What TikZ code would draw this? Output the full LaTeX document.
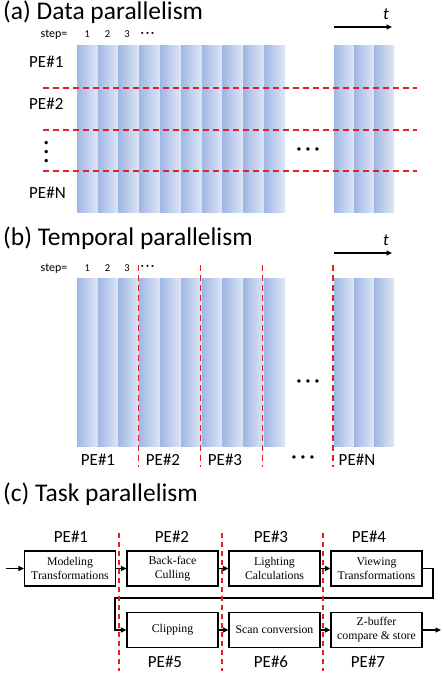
\documentclass[tikz,border=0pt]{standalone}
\usepackage{fontspec}
\setmainfont{Carlito}
\newfontfamily\boxfont{Liberation Serif}
\usetikzlibrary{arrows.meta}
\definecolor{stripL}{RGB}{160,183,228}
\definecolor{stripR}{RGB}{224,231,246}
\definecolor{dashred}{RGB}{228,30,40}
\tikzset{
  stripfill/.style={left color=stripL,right color=stripR},
  reddash/.style={draw=dashred,line width=1.7pt,dash pattern=on 6pt off 4pt},
  reddashv/.style={draw=dashred,line width=1.6pt,dash pattern=on 5pt off 4pt},
  arr/.style={-{Triangle[length=5.5pt,width=5pt]},line width=1.2pt},
  titletxt/.style={font=\fontsize{25.5}{28}\selectfont,anchor=base west,inner sep=0pt},
  petxt/.style={font=\fontsize{17}{20}\selectfont,inner sep=0pt},
  steptxt/.style={font=\fontsize{12}{14}\selectfont,inner sep=0pt},
  numtxt/.style={font=\fontsize{10.5}{12}\selectfont,inner sep=0pt},
  dotstxt/.style={font=\bfseries\fontsize{18}{20}\selectfont,inner sep=0pt},
  taskbox/.style={draw,line width=1.1pt,minimum width=91pt,minimum height=35pt,inner sep=1pt,align=center,font=\boxfont\fontsize{11.8}{14}\selectfont},
}
\newcommand\threedots{·\hspace{4.2pt}·\hspace{4.2pt}·}
\newcommand\smalldots{·\hspace{2.2pt}·\hspace{2.2pt}·}
\begin{document}
\begin{tikzpicture}[x=1pt,y=-1pt]
\useasboundingbox (0,0) rectangle (443,676);

% ---------------- (a) Data parallelism
\node[titletxt] (ta) at (3,20) {(a) Data parallelism};
\coordinate (ta1) at (334,27);
\coordinate (ta2) at (392,27);
\draw[arr] (ta1) -- (ta2);
\node[font=\itshape\fontsize{17}{20}\selectfont,inner sep=0pt] (tla) at (386,14) {t};

\node[steptxt,anchor=base west] (sa) at (40.5,38) {step=};
\node[numtxt,anchor=base] (sa1) at (87.4,38) {1};
\node[numtxt,anchor=base] (sa2) at (107.5,38) {2};
\node[numtxt,anchor=base] (sa3) at (127,38) {3};
\node[numtxt,font=\bfseries\fontsize{11}{12}\selectfont] (sad) at (147.5,34) {\smalldots};

\foreach \i in {0,...,9}
  \shade[stripfill] ({77+20.8*\i},46) rectangle ({77+20.8*(\i+1)},212);
\foreach \xx in {334,354,374}
  \shade[stripfill] (\xx,46) rectangle (\xx+20,212);

\coordinate (ha1) at (43,88);   \coordinate (hb1) at (417,88);
\coordinate (ha2) at (43,130);  \coordinate (hb2) at (417,130);
\coordinate (ha3) at (43,171);  \coordinate (hb3) at (417,171);
\draw[reddash] (ha1) -- (hb1);
\draw[reddash] (ha2) -- (hb2);
\draw[reddash] (ha3) -- (hb3);

\node[petxt,anchor=base west] (pa1) at (29,67.5) {PE\#1};
\node[petxt,anchor=base west] (pa2) at (29,110) {PE\#2};
\node[petxt,anchor=base west] (pan) at (29,199) {PE\#N};
\node[dotstxt,rotate=90] (pav) at (48,152) {\threedots};
\node[dotstxt] (pah) at (308,151) {\threedots};

% ---------------- (b) Temporal parallelism
\node[titletxt] (tb) at (3,245.5) {(b) Temporal parallelism};
\coordinate (tb1) at (334,253);
\coordinate (tb2) at (392,253);
\draw[arr] (tb1) -- (tb2);
\node[font=\itshape\fontsize{17}{20}\selectfont,inner sep=0pt] (tlb) at (386,240) {t};

\node[steptxt,anchor=base west] (sb) at (40.5,271) {step=};
\node[numtxt,anchor=base] (sb1) at (87.4,271) {1};
\node[numtxt,anchor=base] (sb2) at (107.5,271) {2};
\node[numtxt,anchor=base] (sb3) at (127,271) {3};
\node[numtxt,font=\bfseries\fontsize{11}{12}\selectfont] (sbd) at (147.5,267) {\smalldots};

\foreach \i in {0,...,9}
  \shade[stripfill] ({77+20.8*\i},278) rectangle ({77+20.8*(\i+1)},446);
\foreach \xx in {334,354,374}
  \shade[stripfill] (\xx,278) rectangle (\xx+20,446);

\coordinate (va1) at (138.5,265); \coordinate (vb1) at (138.5,467);
\coordinate (va2) at (200.5,265); \coordinate (vb2) at (200.5,467);
\coordinate (va3) at (262.5,265); \coordinate (vb3) at (262.5,467);
\coordinate (va4) at (333,265);   \coordinate (vb4) at (333,467);
\draw[reddash] (va1) -- (vb1);
\draw[reddash] (va2) -- (vb2);
\draw[reddash] (va3) -- (vb3);
\draw[reddash] (va4) -- (vb4);

\node[petxt,anchor=base] (pb1) at (98,465) {PE\#1};
\node[petxt,anchor=base] (pb2) at (163,465) {PE\#2};
\node[petxt,anchor=base] (pb3) at (225,465) {PE\#3};
\node[dotstxt] (pbd) at (303,459) {\threedots};
\node[petxt,anchor=base] (pbn) at (357,465) {PE\#N};
\node[dotstxt] (pbh) at (308,383) {\threedots};

% ---------------- (c) Task parallelism
\node[titletxt] (tc) at (3,501) {(c) Task parallelism};

\node[taskbox] (b1) at (70,568.5) {Modeling\\Transformations};
\node[taskbox] (b2) at (172.5,568.5) {Back-face\\Culling};
\node[taskbox] (b3) at (274.5,568.5) {Lighting\\Calculations};
\node[taskbox] (b4) at (376.5,568.5) {Viewing\\Transformations};
\node[taskbox] (b5) at (172.5,630) {Clipping};
\node[taskbox] (b6) at (274.5,630) {Scan conversion};
\node[taskbox] (b7) at (376.5,630) {Z-buffer\\compare \& store};

\coordinate (cin) at (6,568.5);
\coordinate (cout) at (441,630);
\coordinate (cr) at (433,598);
\coordinate (cl) at (115,598);
\draw[arr] (cin) -- (b1.west);
\draw[arr] (b1.east) -- (b2.west);
\draw[arr] (b2.east) -- (b3.west);
\draw[arr] (b3.east) -- (b4.west);
\draw[arr] (b4.east) -| (cr) -- (cl) |- (b5.west);
\draw[arr] (b5.east) -- (b6.west);
\draw[arr] (b6.east) -- (b7.west);
\draw[arr] (b7.east) -- (cout);

\coordinate (wa1) at (119,533); \coordinate (wb1) at (119,671);
\coordinate (wa2) at (222,533); \coordinate (wb2) at (222,671);
\coordinate (wa3) at (323,533); \coordinate (wb3) at (323,671);
\draw[reddashv] (wa1) -- (wb1);
\draw[reddashv] (wa2) -- (wb2);
\draw[reddashv] (wa3) -- (wb3);

\node[petxt,anchor=base] (pc1) at (71,542) {PE\#1};
\node[petxt,anchor=base] (pc2) at (172,542) {PE\#2};
\node[petxt,anchor=base] (pc3) at (271,542) {PE\#3};
\node[petxt,anchor=base] (pc4) at (369,542) {PE\#4};
\node[petxt,anchor=base] (pc5) at (165,667) {PE\#5};
\node[petxt,anchor=base] (pc6) at (271,667) {PE\#6};
\node[petxt,anchor=base] (pc7) at (368,667) {PE\#7};
\end{tikzpicture}
\end{document}
